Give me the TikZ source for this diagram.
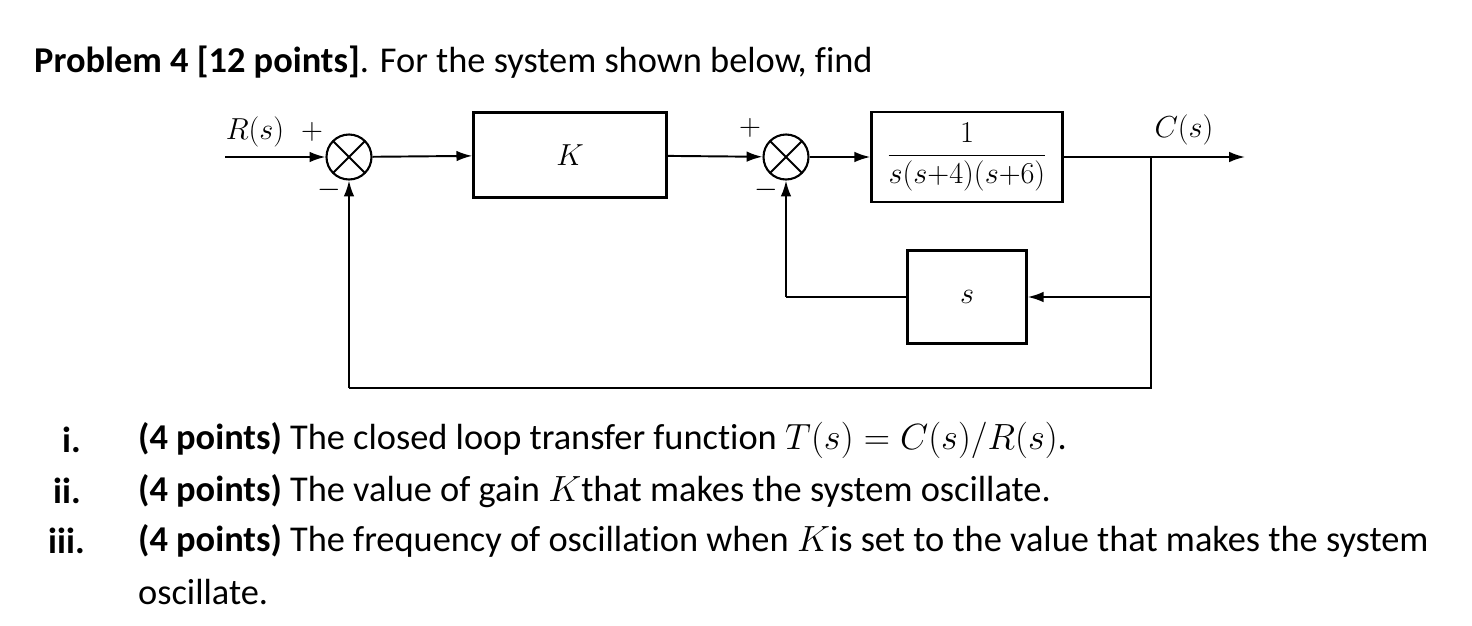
\documentclass[tikz,border=0pt]{standalone}
\usepackage{amsmath}
\usepackage{fontspec}
\setmainfont{Carlito}[Ligatures=NoCommon]
\newfontfamily\tnr{Liberation Serif}
\usetikzlibrary{arrows.meta}
\begin{document}
\begin{tikzpicture}[x=0.02cm,y=-0.02cm,
  blk/.style={draw,line width=1.4pt,inner sep=0pt,font=\tnr\fontsize{18}{20}\selectfont},
  sum/.style={draw,line width=1.2pt,circle,minimum size=0.9cm,inner sep=0pt,path picture={
     \draw[line width=1.1pt] (path picture bounding box.south west)--(path picture bounding box.north east)
     (path picture bounding box.north west)--(path picture bounding box.south east);}},
  ln/.style={line width=1.1pt},
  ar/.style={ln,-{Latex[length=9pt,width=6pt]}},
  lbl/.style={font=\tnr\fontsize{18}{20}\selectfont},
  txt/.style={anchor=west,font=\fontsize{20.7}{24}\selectfont}]
\useasboundingbox (0,0) rectangle (1472,626);
\node[txt] (title) at (28,62) {\textbf{Problem 4 [12 points]}. For the system shown below, find};
\coordinate (in) at (225,157);
\node[sum] (s1) at (349,157) {};
\node[blk,minimum width=3.86cm,minimum height=1.7cm] (K) at (570,155) {$K$};
\node[sum] (s2) at (786,157) {};
\node[blk,minimum width=3.82cm,minimum height=1.8cm] (G) at (967,157) {$\dfrac{1}{s(s{+}4)(s{+}6)}$};
\node[blk,minimum width=2.38cm,minimum height=1.86cm] (H) at (967,297) {$s$};
\coordinate (out) at (1245,157);
\coordinate (br) at (1151,157);
\coordinate (b2) at (1151,297);
\coordinate (b3) at (1151,388);
\coordinate (c1) at (349,388);
\coordinate (c2) at (786,297);
\node[lbl] (R) at (255,132) {$R(s)$};
\node[lbl] (p1) at (312,132) {$+$};
\node[lbl] (m1) at (329,190) {$-$};
\node[lbl] (p2) at (750,128) {$+$};
\node[lbl] (m2) at (766,190) {$-$};
\node[lbl] (C) at (1184,130) {$C(s)$};
\draw[ar] (in) -- (s1);
\draw[ar] (s1) -- (K);
\draw[ar] (K) -- (s2);
\draw[ar] (s2) -- (G);
\draw[ar] (G) -- (out);
\draw[ln] (br) -- (b3) -- (c1);
\draw[ar] (c1) -- (s1);
\draw[ar] (b2) -- (H);
\draw[ln] (H) -- (c2);
\draw[ar] (c2) -- (s2);
\node[txt] (l1) at (56,440) {\textbf{i.}};
\node[txt] (l2) at (47,491) {\textbf{ii.}};
\node[txt] (l3) at (42,541) {\textbf{iii.}};
\node[txt] (t1) at (132,440) {\textbf{(4 points)} The closed loop transfer function $T(s)=C(s)/R(s)$.};
\node[txt] (t2) at (132,491) {\textbf{(4 points)} The value of gain $K$that makes the system oscillate.};
\node[txt] (t3) at (132,541) {\textbf{(4 points)} The frequency of oscillation when $K$is set to the value that makes the system};
\node[txt] (t4) at (132,592) {oscillate.};
\end{tikzpicture}
\end{document}
